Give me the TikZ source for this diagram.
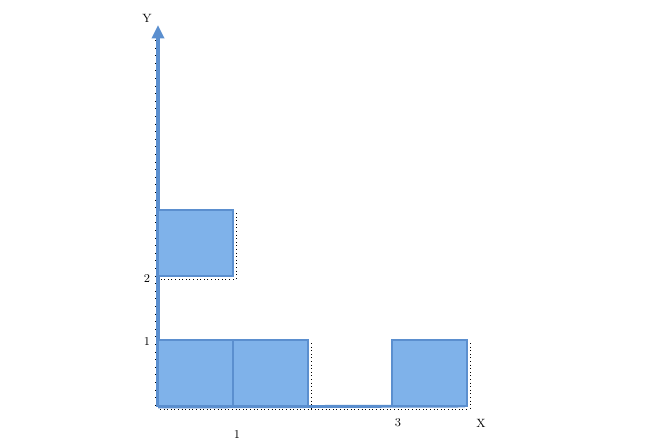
\documentclass[tikz,border=0pt]{standalone}
\usetikzlibrary{arrows.meta}
\definecolor{cellfill}{HTML}{7FB2EA}
\definecolor{cellline}{HTML}{5B8FCF}

\begin{document}
\begin{tikzpicture}[x=0.75pt,y=-0.75pt, every node/.style={font=\small},
  cell/.style={fill=cellfill,draw=cellline,line width=0.9pt},
  dotshade/.style={black,dotted,line width=0.7pt}]
  \useasboundingbox (0,0) rectangle (655,443);

  % dotted shadows
  \draw[dotshade,dash pattern=on 0.7pt off 5pt] (155,40) -- (155,409);
  \draw[dotshade] (160,409) -- (469,409);
  \draw[dotshade] (236,213) -- (236,279) -- (160,279);
  \draw[dotshade] (311,343) -- (311,409);
  \draw[dotshade] (470,343) -- (470,409);

  % axes
  \coordinate (O) at (158,407);
  \coordinate (ytop) at (158,25);
  \coordinate (xend) at (465,406);
  \draw[cellline,line width=2.2pt] (O) -- (xend);
  \draw[cellline,line width=3pt,-{Triangle[length=10pt,width=9pt]}] (O) -- (ytop);

  % cells
  \draw[cell] (158,340) rectangle (233,406);
  \draw[cell] (233,340) rectangle (308,406);
  \draw[cell] (392,340) rectangle (467,406);
  \draw[cell] (158,210) rectangle (233,276);

  % labels
  \node (ylab) at (147,18) {Y};
  \node (xlab) at (481,423) {X};
  \node (y2) at (147,278) {2};
  \node (y1) at (147,341) {1};
  \node (x1) at (237,434) {1};
  \node (x3) at (398,423) {3};
\end{tikzpicture}
\end{document}
